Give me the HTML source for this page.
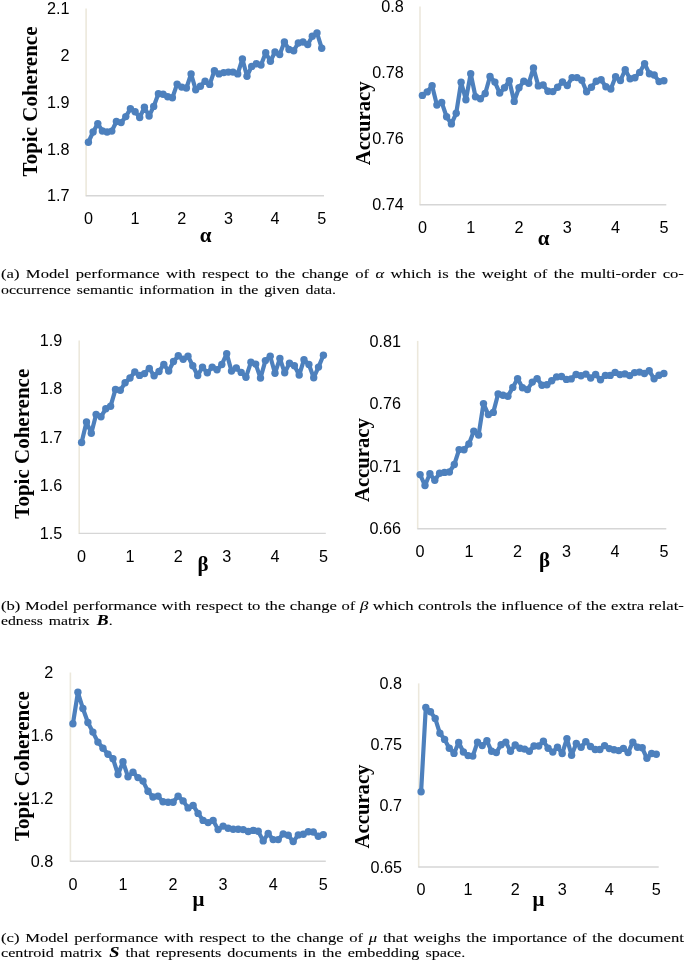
<!DOCTYPE html>
<html><head><meta charset="utf-8"><title>Figure</title>
<style>
html,body{margin:0;padding:0;background:#fff;}
body{width:685px;height:960px;position:relative;overflow:hidden;}
svg{position:absolute;left:0;top:0;}
.tk{font-family:"Liberation Sans",Arial,sans-serif;font-size:16.2px;fill:#000;}
.tt{font-family:"Liberation Serif","Times New Roman",serif;font-size:21px;font-weight:bold;fill:#000;}
.cp{font-family:"Liberation Serif","Times New Roman",serif;font-size:12.9px;fill:#000;stroke:#000;stroke-width:0.08px;}
</style></head><body>
<svg width="685" height="960" viewBox="0 0 685 960">
<g><line x1="86.1" y1="8.4" x2="86.1" y2="196.2" stroke="#ece8dc" stroke-width="1.6"/>
<line x1="85.8" y1="195.7" x2="324" y2="195.7" stroke="#d6d6d6" stroke-width="1.4"/>
<text x="69.4" y="201.3" class="tk" text-anchor="end">1.7</text>
<text x="69.4" y="154.5" class="tk" text-anchor="end">1.8</text>
<text x="69.4" y="107.6" class="tk" text-anchor="end">1.9</text>
<text x="69.4" y="60.8" class="tk" text-anchor="end">2</text>
<text x="69.4" y="14" class="tk" text-anchor="end">2.1</text>
<text x="88.4" y="223.9" class="tk" text-anchor="middle">0</text>
<text x="135.1" y="223.9" class="tk" text-anchor="middle">1</text>
<text x="181.7" y="223.9" class="tk" text-anchor="middle">2</text>
<text x="228.4" y="223.9" class="tk" text-anchor="middle">3</text>
<text x="275" y="223.9" class="tk" text-anchor="middle">4</text>
<text x="321.7" y="223.9" class="tk" text-anchor="middle">5</text>
<text x="205.5" y="242.4" class="tt" text-anchor="middle">α</text>
<text transform="translate(37.2,176.4) rotate(-90)" class="tt">Topic Coherence</text>
<polyline points="88.4,142.2 93.1,132 97.8,123.6 102.4,131 107.1,132 111.8,131.1 116.4,121.5 121.1,122.6 125.8,116.6 130.4,108.8 135.1,111.8 139.7,117.5 144.4,107.3 149.1,116 153.7,106.4 158.4,93.7 163.1,94.2 167.7,96.8 172.4,97.7 177.1,84.1 181.7,87.1 186.4,88 191.1,74 195.7,89.7 200.4,86.2 205.1,81.3 209.7,84.4 214.4,70.8 219,73.9 223.7,72.6 228.4,72.1 233,72.1 237.7,73.9 242.4,59 247,76.2 251.7,66.4 256.4,63.8 261,65.1 265.7,52.8 270.4,61.2 275,52 279.7,54.6 284.4,41.9 289,49.5 293.7,50.7 298.3,43 303,42 307.7,44.6 312.3,36.2 317,32.9 321.7,48.2" fill="none" stroke="#4D80BD" stroke-width="4.2" stroke-linejoin="round" stroke-linecap="round"/>
<g fill="#4D80BD"><circle cx="88.4" cy="142.2" r="3.7"/><circle cx="93.1" cy="132" r="3.7"/><circle cx="97.8" cy="123.6" r="3.7"/><circle cx="102.4" cy="131" r="3.7"/><circle cx="107.1" cy="132" r="3.7"/><circle cx="111.8" cy="131.1" r="3.7"/><circle cx="116.4" cy="121.5" r="3.7"/><circle cx="121.1" cy="122.6" r="3.7"/><circle cx="125.8" cy="116.6" r="3.7"/><circle cx="130.4" cy="108.8" r="3.7"/><circle cx="135.1" cy="111.8" r="3.7"/><circle cx="139.7" cy="117.5" r="3.7"/><circle cx="144.4" cy="107.3" r="3.7"/><circle cx="149.1" cy="116" r="3.7"/><circle cx="153.7" cy="106.4" r="3.7"/><circle cx="158.4" cy="93.7" r="3.7"/><circle cx="163.1" cy="94.2" r="3.7"/><circle cx="167.7" cy="96.8" r="3.7"/><circle cx="172.4" cy="97.7" r="3.7"/><circle cx="177.1" cy="84.1" r="3.7"/><circle cx="181.7" cy="87.1" r="3.7"/><circle cx="186.4" cy="88" r="3.7"/><circle cx="191.1" cy="74" r="3.7"/><circle cx="195.7" cy="89.7" r="3.7"/><circle cx="200.4" cy="86.2" r="3.7"/><circle cx="205.1" cy="81.3" r="3.7"/><circle cx="209.7" cy="84.4" r="3.7"/><circle cx="214.4" cy="70.8" r="3.7"/><circle cx="219" cy="73.9" r="3.7"/><circle cx="223.7" cy="72.6" r="3.7"/><circle cx="228.4" cy="72.1" r="3.7"/><circle cx="233" cy="72.1" r="3.7"/><circle cx="237.7" cy="73.9" r="3.7"/><circle cx="242.4" cy="59" r="3.7"/><circle cx="247" cy="76.2" r="3.7"/><circle cx="251.7" cy="66.4" r="3.7"/><circle cx="256.4" cy="63.8" r="3.7"/><circle cx="261" cy="65.1" r="3.7"/><circle cx="265.7" cy="52.8" r="3.7"/><circle cx="270.4" cy="61.2" r="3.7"/><circle cx="275" cy="52" r="3.7"/><circle cx="279.7" cy="54.6" r="3.7"/><circle cx="284.4" cy="41.9" r="3.7"/><circle cx="289" cy="49.5" r="3.7"/><circle cx="293.7" cy="50.7" r="3.7"/><circle cx="298.3" cy="43" r="3.7"/><circle cx="303" cy="42" r="3.7"/><circle cx="307.7" cy="44.6" r="3.7"/><circle cx="312.3" cy="36.2" r="3.7"/><circle cx="317" cy="32.9" r="3.7"/><circle cx="321.7" cy="48.2" r="3.7"/></g></g>
<g><line x1="420" y1="6.6" x2="420" y2="205.2" stroke="#ece8dc" stroke-width="1.6"/>
<line x1="419.7" y1="204.7" x2="666.3" y2="204.7" stroke="#d6d6d6" stroke-width="1.4"/>
<text x="403.8" y="210.3" class="tk" text-anchor="end">0.74</text>
<text x="403.8" y="144.3" class="tk" text-anchor="end">0.76</text>
<text x="403.8" y="78.2" class="tk" text-anchor="end">0.78</text>
<text x="403.8" y="12.2" class="tk" text-anchor="end">0.8</text>
<text x="422.4" y="233" class="tk" text-anchor="middle">0</text>
<text x="470.7" y="233" class="tk" text-anchor="middle">1</text>
<text x="519" y="233" class="tk" text-anchor="middle">2</text>
<text x="567.3" y="233" class="tk" text-anchor="middle">3</text>
<text x="615.6" y="233" class="tk" text-anchor="middle">4</text>
<text x="663.9" y="233" class="tk" text-anchor="middle">5</text>
<text x="543.5" y="244.9" class="tt" text-anchor="middle">α</text>
<text transform="translate(370,165.3) rotate(-90)" class="tt" style="font-size:20.7px">Accuracy</text>
<polyline points="422.4,95.4 427.2,91.9 432.1,85.8 436.9,105 441.7,102.4 446.6,116.8 451.4,123.9 456.2,113.3 461.1,82.3 465.9,99.8 470.7,73.7 475.5,96.7 480.4,98.8 485.2,93.5 490,76.5 494.9,82.1 499.7,93.1 504.5,87.8 509.3,80.8 514.2,101.4 519,87.8 523.8,81.2 528.7,83.3 533.5,68 538.3,85.9 543.1,85 548,91.2 552.8,91.6 557.6,87.2 562.5,82 567.3,85.5 572.1,77.6 577,77.6 581.8,80.3 586.6,91.7 591.4,87.3 596.3,81.2 601.1,79.8 605.9,86.8 610.8,89 615.6,76.8 620.4,80.5 625.2,69.8 630.1,78.7 634.9,77.7 639.7,72.4 644.6,63.6 649.4,73.7 654.2,75 659.1,81.6 663.9,80.7" fill="none" stroke="#4D80BD" stroke-width="4.2" stroke-linejoin="round" stroke-linecap="round"/>
<g fill="#4D80BD"><circle cx="422.4" cy="95.4" r="3.7"/><circle cx="427.2" cy="91.9" r="3.7"/><circle cx="432.1" cy="85.8" r="3.7"/><circle cx="436.9" cy="105" r="3.7"/><circle cx="441.7" cy="102.4" r="3.7"/><circle cx="446.6" cy="116.8" r="3.7"/><circle cx="451.4" cy="123.9" r="3.7"/><circle cx="456.2" cy="113.3" r="3.7"/><circle cx="461.1" cy="82.3" r="3.7"/><circle cx="465.9" cy="99.8" r="3.7"/><circle cx="470.7" cy="73.7" r="3.7"/><circle cx="475.5" cy="96.7" r="3.7"/><circle cx="480.4" cy="98.8" r="3.7"/><circle cx="485.2" cy="93.5" r="3.7"/><circle cx="490" cy="76.5" r="3.7"/><circle cx="494.9" cy="82.1" r="3.7"/><circle cx="499.7" cy="93.1" r="3.7"/><circle cx="504.5" cy="87.8" r="3.7"/><circle cx="509.3" cy="80.8" r="3.7"/><circle cx="514.2" cy="101.4" r="3.7"/><circle cx="519" cy="87.8" r="3.7"/><circle cx="523.8" cy="81.2" r="3.7"/><circle cx="528.7" cy="83.3" r="3.7"/><circle cx="533.5" cy="68" r="3.7"/><circle cx="538.3" cy="85.9" r="3.7"/><circle cx="543.1" cy="85" r="3.7"/><circle cx="548" cy="91.2" r="3.7"/><circle cx="552.8" cy="91.6" r="3.7"/><circle cx="557.6" cy="87.2" r="3.7"/><circle cx="562.5" cy="82" r="3.7"/><circle cx="567.3" cy="85.5" r="3.7"/><circle cx="572.1" cy="77.6" r="3.7"/><circle cx="577" cy="77.6" r="3.7"/><circle cx="581.8" cy="80.3" r="3.7"/><circle cx="586.6" cy="91.7" r="3.7"/><circle cx="591.4" cy="87.3" r="3.7"/><circle cx="596.3" cy="81.2" r="3.7"/><circle cx="601.1" cy="79.8" r="3.7"/><circle cx="605.9" cy="86.8" r="3.7"/><circle cx="610.8" cy="89" r="3.7"/><circle cx="615.6" cy="76.8" r="3.7"/><circle cx="620.4" cy="80.5" r="3.7"/><circle cx="625.2" cy="69.8" r="3.7"/><circle cx="630.1" cy="78.7" r="3.7"/><circle cx="634.9" cy="77.7" r="3.7"/><circle cx="639.7" cy="72.4" r="3.7"/><circle cx="644.6" cy="63.6" r="3.7"/><circle cx="649.4" cy="73.7" r="3.7"/><circle cx="654.2" cy="75" r="3.7"/><circle cx="659.1" cy="81.6" r="3.7"/><circle cx="663.9" cy="80.7" r="3.7"/></g></g>
<g><line x1="79.2" y1="340.4" x2="79.2" y2="533.9" stroke="#ece8dc" stroke-width="1.6"/>
<line x1="78.9" y1="533.4" x2="325.8" y2="533.4" stroke="#d6d6d6" stroke-width="1.4"/>
<text x="62.3" y="539" class="tk" text-anchor="end">1.5</text>
<text x="62.3" y="490.8" class="tk" text-anchor="end">1.6</text>
<text x="62.3" y="442.5" class="tk" text-anchor="end">1.7</text>
<text x="62.3" y="394.2" class="tk" text-anchor="end">1.8</text>
<text x="62.3" y="346" class="tk" text-anchor="end">1.9</text>
<text x="81.6" y="561.7" class="tk" text-anchor="middle">0</text>
<text x="130" y="561.7" class="tk" text-anchor="middle">1</text>
<text x="178.3" y="561.7" class="tk" text-anchor="middle">2</text>
<text x="226.7" y="561.7" class="tk" text-anchor="middle">3</text>
<text x="275" y="561.7" class="tk" text-anchor="middle">4</text>
<text x="323.4" y="561.7" class="tk" text-anchor="middle">5</text>
<text x="203" y="570.6" class="tt" text-anchor="middle">β</text>
<text transform="translate(28.7,518.7) rotate(-90)" class="tt">Topic Coherence</text>
<polyline points="81.6,442.5 86.5,422 91.3,433.3 96.1,414.5 101,416.7 105.8,408.8 110.6,406.2 115.5,389.4 120.3,390.3 125.1,382.8 130,378 134.8,371.9 139.6,375.4 144.5,373.6 149.3,368.4 154.1,375.8 159,371.5 163.8,364.4 168.7,371 173.5,361.5 178.3,355.8 183.2,359.3 188,356.2 192.8,365.8 197.7,375.5 202.5,367.1 207.3,372.8 212.2,367.1 217,369.8 221.8,364.5 226.7,353.6 231.5,371.1 236.3,368 241.2,372.4 246,377.2 250.9,362.3 255.7,364.1 260.5,378.1 265.4,360.6 270.2,356.2 275,373.3 279.9,358.4 284.7,372.8 289.5,363.2 294.4,365.8 299.2,375 304,359.7 308.9,364.5 313.7,377.7 318.5,367.1 323.4,355.3" fill="none" stroke="#4D80BD" stroke-width="4.2" stroke-linejoin="round" stroke-linecap="round"/>
<g fill="#4D80BD"><circle cx="81.6" cy="442.5" r="3.7"/><circle cx="86.5" cy="422" r="3.7"/><circle cx="91.3" cy="433.3" r="3.7"/><circle cx="96.1" cy="414.5" r="3.7"/><circle cx="101" cy="416.7" r="3.7"/><circle cx="105.8" cy="408.8" r="3.7"/><circle cx="110.6" cy="406.2" r="3.7"/><circle cx="115.5" cy="389.4" r="3.7"/><circle cx="120.3" cy="390.3" r="3.7"/><circle cx="125.1" cy="382.8" r="3.7"/><circle cx="130" cy="378" r="3.7"/><circle cx="134.8" cy="371.9" r="3.7"/><circle cx="139.6" cy="375.4" r="3.7"/><circle cx="144.5" cy="373.6" r="3.7"/><circle cx="149.3" cy="368.4" r="3.7"/><circle cx="154.1" cy="375.8" r="3.7"/><circle cx="159" cy="371.5" r="3.7"/><circle cx="163.8" cy="364.4" r="3.7"/><circle cx="168.7" cy="371" r="3.7"/><circle cx="173.5" cy="361.5" r="3.7"/><circle cx="178.3" cy="355.8" r="3.7"/><circle cx="183.2" cy="359.3" r="3.7"/><circle cx="188" cy="356.2" r="3.7"/><circle cx="192.8" cy="365.8" r="3.7"/><circle cx="197.7" cy="375.5" r="3.7"/><circle cx="202.5" cy="367.1" r="3.7"/><circle cx="207.3" cy="372.8" r="3.7"/><circle cx="212.2" cy="367.1" r="3.7"/><circle cx="217" cy="369.8" r="3.7"/><circle cx="221.8" cy="364.5" r="3.7"/><circle cx="226.7" cy="353.6" r="3.7"/><circle cx="231.5" cy="371.1" r="3.7"/><circle cx="236.3" cy="368" r="3.7"/><circle cx="241.2" cy="372.4" r="3.7"/><circle cx="246" cy="377.2" r="3.7"/><circle cx="250.9" cy="362.3" r="3.7"/><circle cx="255.7" cy="364.1" r="3.7"/><circle cx="260.5" cy="378.1" r="3.7"/><circle cx="265.4" cy="360.6" r="3.7"/><circle cx="270.2" cy="356.2" r="3.7"/><circle cx="275" cy="373.3" r="3.7"/><circle cx="279.9" cy="358.4" r="3.7"/><circle cx="284.7" cy="372.8" r="3.7"/><circle cx="289.5" cy="363.2" r="3.7"/><circle cx="294.4" cy="365.8" r="3.7"/><circle cx="299.2" cy="375" r="3.7"/><circle cx="304" cy="359.7" r="3.7"/><circle cx="308.9" cy="364.5" r="3.7"/><circle cx="313.7" cy="377.7" r="3.7"/><circle cx="318.5" cy="367.1" r="3.7"/><circle cx="323.4" cy="355.3" r="3.7"/></g></g>
<g><line x1="417.7" y1="340.9" x2="417.7" y2="529.2" stroke="#ece8dc" stroke-width="1.6"/>
<line x1="417.4" y1="528.7" x2="666.3" y2="528.7" stroke="#d6d6d6" stroke-width="1.4"/>
<text x="401.1" y="534.3" class="tk" text-anchor="end">0.66</text>
<text x="401.1" y="471.7" class="tk" text-anchor="end">0.71</text>
<text x="401.1" y="409.1" class="tk" text-anchor="end">0.76</text>
<text x="401.1" y="346.5" class="tk" text-anchor="end">0.81</text>
<text x="420.1" y="557.1" class="tk" text-anchor="middle">0</text>
<text x="468.9" y="557.1" class="tk" text-anchor="middle">1</text>
<text x="517.6" y="557.1" class="tk" text-anchor="middle">2</text>
<text x="566.4" y="557.1" class="tk" text-anchor="middle">3</text>
<text x="615.1" y="557.1" class="tk" text-anchor="middle">4</text>
<text x="663.9" y="557.1" class="tk" text-anchor="middle">5</text>
<text x="544.5" y="566.9" class="tt" text-anchor="middle">β</text>
<text transform="translate(369.1,502) rotate(-90)" class="tt" style="font-size:20.7px">Accuracy</text>
<polyline points="420.1,474.6 425,485.5 429.9,473.7 434.8,480.3 439.6,473.3 444.5,472.4 449.4,472 454.3,464.5 459.1,449.6 464,449.8 468.9,443.9 473.8,431.3 478.6,435 483.5,403.6 488.4,414.6 493.3,412.4 498.1,394 503,395.3 507.9,396.2 512.8,387.4 517.6,378.6 522.5,387.8 527.4,389.6 532.3,382.1 537.1,378.6 542,385.2 546.9,384.8 551.7,380.8 556.6,376.9 561.5,376.5 566.4,379.4 571.2,378.9 576.1,374.5 581,375.8 585.9,374.1 590.7,378 595.6,374.5 600.5,379.8 605.4,375.4 610.2,375.4 615.1,372.4 620,374.6 624.9,373.9 629.7,375.6 634.6,372.6 639.5,372.1 644.4,373.5 649.2,370.8 654.1,378.7 659,375.2 663.9,373.5" fill="none" stroke="#4D80BD" stroke-width="4.2" stroke-linejoin="round" stroke-linecap="round"/>
<g fill="#4D80BD"><circle cx="420.1" cy="474.6" r="3.7"/><circle cx="425" cy="485.5" r="3.7"/><circle cx="429.9" cy="473.7" r="3.7"/><circle cx="434.8" cy="480.3" r="3.7"/><circle cx="439.6" cy="473.3" r="3.7"/><circle cx="444.5" cy="472.4" r="3.7"/><circle cx="449.4" cy="472" r="3.7"/><circle cx="454.3" cy="464.5" r="3.7"/><circle cx="459.1" cy="449.6" r="3.7"/><circle cx="464" cy="449.8" r="3.7"/><circle cx="468.9" cy="443.9" r="3.7"/><circle cx="473.8" cy="431.3" r="3.7"/><circle cx="478.6" cy="435" r="3.7"/><circle cx="483.5" cy="403.6" r="3.7"/><circle cx="488.4" cy="414.6" r="3.7"/><circle cx="493.3" cy="412.4" r="3.7"/><circle cx="498.1" cy="394" r="3.7"/><circle cx="503" cy="395.3" r="3.7"/><circle cx="507.9" cy="396.2" r="3.7"/><circle cx="512.8" cy="387.4" r="3.7"/><circle cx="517.6" cy="378.6" r="3.7"/><circle cx="522.5" cy="387.8" r="3.7"/><circle cx="527.4" cy="389.6" r="3.7"/><circle cx="532.3" cy="382.1" r="3.7"/><circle cx="537.1" cy="378.6" r="3.7"/><circle cx="542" cy="385.2" r="3.7"/><circle cx="546.9" cy="384.8" r="3.7"/><circle cx="551.7" cy="380.8" r="3.7"/><circle cx="556.6" cy="376.9" r="3.7"/><circle cx="561.5" cy="376.5" r="3.7"/><circle cx="566.4" cy="379.4" r="3.7"/><circle cx="571.2" cy="378.9" r="3.7"/><circle cx="576.1" cy="374.5" r="3.7"/><circle cx="581" cy="375.8" r="3.7"/><circle cx="585.9" cy="374.1" r="3.7"/><circle cx="590.7" cy="378" r="3.7"/><circle cx="595.6" cy="374.5" r="3.7"/><circle cx="600.5" cy="379.8" r="3.7"/><circle cx="605.4" cy="375.4" r="3.7"/><circle cx="610.2" cy="375.4" r="3.7"/><circle cx="615.1" cy="372.4" r="3.7"/><circle cx="620" cy="374.6" r="3.7"/><circle cx="624.9" cy="373.9" r="3.7"/><circle cx="629.7" cy="375.6" r="3.7"/><circle cx="634.6" cy="372.6" r="3.7"/><circle cx="639.5" cy="372.1" r="3.7"/><circle cx="644.4" cy="373.5" r="3.7"/><circle cx="649.2" cy="370.8" r="3.7"/><circle cx="654.1" cy="378.7" r="3.7"/><circle cx="659" cy="375.2" r="3.7"/><circle cx="663.9" cy="373.5" r="3.7"/></g></g>
<g><line x1="70.4" y1="672.5" x2="70.4" y2="861.7" stroke="#ece8dc" stroke-width="1.6"/>
<line x1="70.1" y1="861.2" x2="325.8" y2="861.2" stroke="#d6d6d6" stroke-width="1.4"/>
<text x="53.3" y="866.8" class="tk" text-anchor="end">0.8</text>
<text x="53.3" y="803.9" class="tk" text-anchor="end">1.2</text>
<text x="53.3" y="741" class="tk" text-anchor="end">1.6</text>
<text x="53.3" y="678.1" class="tk" text-anchor="end">2</text>
<text x="72.9" y="889.5" class="tk" text-anchor="middle">0</text>
<text x="123" y="889.5" class="tk" text-anchor="middle">1</text>
<text x="173.1" y="889.5" class="tk" text-anchor="middle">2</text>
<text x="223.1" y="889.5" class="tk" text-anchor="middle">3</text>
<text x="273.2" y="889.5" class="tk" text-anchor="middle">4</text>
<text x="323.3" y="889.5" class="tk" text-anchor="middle">5</text>
<text x="198.4" y="905.9" class="tt" text-anchor="middle">μ</text>
<text transform="translate(28.7,841) rotate(-90)" class="tt">Topic Coherence</text>
<polyline points="72.9,723.8 77.9,692.3 82.9,708.5 87.9,722.5 92.9,732.1 97.9,742.1 103,748.2 108,754.3 113,758.7 118,774.5 123,761.8 128,776.7 133,772.3 138,777.6 143,781.1 148,791.3 153,797 158,796.1 163,801.8 168.1,802.2 173.1,802.2 178.1,796.1 183.1,800.9 188.1,807.9 193.1,805.4 198.1,813.4 203.1,820.4 208.1,822.6 213.1,820.4 218.1,829.6 223.1,826.1 228.1,828.3 233.2,829.2 238.2,829.2 243.2,829.6 248.2,831.5 253.2,830.4 258.2,831.3 263.2,840.9 268.2,833.5 273.2,839.6 278.2,839.6 283.2,833.9 288.2,835.2 293.2,841.6 298.3,834.9 303.3,834.3 308.3,831.7 313.3,832 318.3,836.3 323.3,834.6" fill="none" stroke="#4D80BD" stroke-width="4.2" stroke-linejoin="round" stroke-linecap="round"/>
<g fill="#4D80BD"><circle cx="72.9" cy="723.8" r="3.7"/><circle cx="77.9" cy="692.3" r="3.7"/><circle cx="82.9" cy="708.5" r="3.7"/><circle cx="87.9" cy="722.5" r="3.7"/><circle cx="92.9" cy="732.1" r="3.7"/><circle cx="97.9" cy="742.1" r="3.7"/><circle cx="103" cy="748.2" r="3.7"/><circle cx="108" cy="754.3" r="3.7"/><circle cx="113" cy="758.7" r="3.7"/><circle cx="118" cy="774.5" r="3.7"/><circle cx="123" cy="761.8" r="3.7"/><circle cx="128" cy="776.7" r="3.7"/><circle cx="133" cy="772.3" r="3.7"/><circle cx="138" cy="777.6" r="3.7"/><circle cx="143" cy="781.1" r="3.7"/><circle cx="148" cy="791.3" r="3.7"/><circle cx="153" cy="797" r="3.7"/><circle cx="158" cy="796.1" r="3.7"/><circle cx="163" cy="801.8" r="3.7"/><circle cx="168.1" cy="802.2" r="3.7"/><circle cx="173.1" cy="802.2" r="3.7"/><circle cx="178.1" cy="796.1" r="3.7"/><circle cx="183.1" cy="800.9" r="3.7"/><circle cx="188.1" cy="807.9" r="3.7"/><circle cx="193.1" cy="805.4" r="3.7"/><circle cx="198.1" cy="813.4" r="3.7"/><circle cx="203.1" cy="820.4" r="3.7"/><circle cx="208.1" cy="822.6" r="3.7"/><circle cx="213.1" cy="820.4" r="3.7"/><circle cx="218.1" cy="829.6" r="3.7"/><circle cx="223.1" cy="826.1" r="3.7"/><circle cx="228.1" cy="828.3" r="3.7"/><circle cx="233.2" cy="829.2" r="3.7"/><circle cx="238.2" cy="829.2" r="3.7"/><circle cx="243.2" cy="829.6" r="3.7"/><circle cx="248.2" cy="831.5" r="3.7"/><circle cx="253.2" cy="830.4" r="3.7"/><circle cx="258.2" cy="831.3" r="3.7"/><circle cx="263.2" cy="840.9" r="3.7"/><circle cx="268.2" cy="833.5" r="3.7"/><circle cx="273.2" cy="839.6" r="3.7"/><circle cx="278.2" cy="839.6" r="3.7"/><circle cx="283.2" cy="833.9" r="3.7"/><circle cx="288.2" cy="835.2" r="3.7"/><circle cx="293.2" cy="841.6" r="3.7"/><circle cx="298.3" cy="834.9" r="3.7"/><circle cx="303.3" cy="834.3" r="3.7"/><circle cx="308.3" cy="831.7" r="3.7"/><circle cx="313.3" cy="832" r="3.7"/><circle cx="318.3" cy="836.3" r="3.7"/><circle cx="323.3" cy="834.6" r="3.7"/></g></g>
<g><line x1="418.7" y1="683.4" x2="418.7" y2="867.5" stroke="#ece8dc" stroke-width="1.6"/>
<line x1="418.4" y1="867" x2="658.7" y2="867" stroke="#d6d6d6" stroke-width="1.4"/>
<text x="402.1" y="872.6" class="tk" text-anchor="end">0.65</text>
<text x="402.1" y="811.4" class="tk" text-anchor="end">0.7</text>
<text x="402.1" y="750.2" class="tk" text-anchor="end">0.75</text>
<text x="402.1" y="689" class="tk" text-anchor="end">0.8</text>
<text x="421.1" y="895.3" class="tk" text-anchor="middle">0</text>
<text x="468.1" y="895.3" class="tk" text-anchor="middle">1</text>
<text x="515.2" y="895.3" class="tk" text-anchor="middle">2</text>
<text x="562.2" y="895.3" class="tk" text-anchor="middle">3</text>
<text x="609.3" y="895.3" class="tk" text-anchor="middle">4</text>
<text x="656.3" y="895.3" class="tk" text-anchor="middle">5</text>
<text x="538.5" y="905.5" class="tt" text-anchor="middle">μ</text>
<text transform="translate(369.1,848.4) rotate(-90)" class="tt" style="font-size:20.7px">Accuracy</text>
<polyline points="421.1,791.8 425.8,707.4 430.5,711.8 435.2,718.4 439.9,733.3 444.6,739.4 449.3,748.2 454,753.4 458.7,742.5 463.4,752 468.1,755.6 472.8,756.1 477.5,742.1 482.2,745.6 486.9,740.8 491.6,751.3 496.3,752.6 501.1,744.7 505.8,742.1 510.5,751.3 515.2,745 519.9,748.2 524.6,749.1 529.3,751.3 534,746 538.7,746 543.4,741.2 548.1,748.2 552.8,752.1 557.5,747.3 562.2,753.5 566.9,738.6 571.6,755.2 576.3,743.4 581.1,747.3 585.8,741.6 590.5,746.5 595.2,749.5 599.9,749.5 604.6,745.6 609.3,748.6 614,749.7 618.7,750.6 623.4,748.4 628.1,752.6 632.8,742.1 637.5,747.3 642.2,747.8 646.9,758.3 651.6,753.5 656.3,754.3" fill="none" stroke="#4D80BD" stroke-width="4.2" stroke-linejoin="round" stroke-linecap="round"/>
<g fill="#4D80BD"><circle cx="421.1" cy="791.8" r="3.7"/><circle cx="425.8" cy="707.4" r="3.7"/><circle cx="430.5" cy="711.8" r="3.7"/><circle cx="435.2" cy="718.4" r="3.7"/><circle cx="439.9" cy="733.3" r="3.7"/><circle cx="444.6" cy="739.4" r="3.7"/><circle cx="449.3" cy="748.2" r="3.7"/><circle cx="454" cy="753.4" r="3.7"/><circle cx="458.7" cy="742.5" r="3.7"/><circle cx="463.4" cy="752" r="3.7"/><circle cx="468.1" cy="755.6" r="3.7"/><circle cx="472.8" cy="756.1" r="3.7"/><circle cx="477.5" cy="742.1" r="3.7"/><circle cx="482.2" cy="745.6" r="3.7"/><circle cx="486.9" cy="740.8" r="3.7"/><circle cx="491.6" cy="751.3" r="3.7"/><circle cx="496.3" cy="752.6" r="3.7"/><circle cx="501.1" cy="744.7" r="3.7"/><circle cx="505.8" cy="742.1" r="3.7"/><circle cx="510.5" cy="751.3" r="3.7"/><circle cx="515.2" cy="745" r="3.7"/><circle cx="519.9" cy="748.2" r="3.7"/><circle cx="524.6" cy="749.1" r="3.7"/><circle cx="529.3" cy="751.3" r="3.7"/><circle cx="534" cy="746" r="3.7"/><circle cx="538.7" cy="746" r="3.7"/><circle cx="543.4" cy="741.2" r="3.7"/><circle cx="548.1" cy="748.2" r="3.7"/><circle cx="552.8" cy="752.1" r="3.7"/><circle cx="557.5" cy="747.3" r="3.7"/><circle cx="562.2" cy="753.5" r="3.7"/><circle cx="566.9" cy="738.6" r="3.7"/><circle cx="571.6" cy="755.2" r="3.7"/><circle cx="576.3" cy="743.4" r="3.7"/><circle cx="581.1" cy="747.3" r="3.7"/><circle cx="585.8" cy="741.6" r="3.7"/><circle cx="590.5" cy="746.5" r="3.7"/><circle cx="595.2" cy="749.5" r="3.7"/><circle cx="599.9" cy="749.5" r="3.7"/><circle cx="604.6" cy="745.6" r="3.7"/><circle cx="609.3" cy="748.6" r="3.7"/><circle cx="614" cy="749.7" r="3.7"/><circle cx="618.7" cy="750.6" r="3.7"/><circle cx="623.4" cy="748.4" r="3.7"/><circle cx="628.1" cy="752.6" r="3.7"/><circle cx="632.8" cy="742.1" r="3.7"/><circle cx="637.5" cy="747.3" r="3.7"/><circle cx="642.2" cy="747.8" r="3.7"/><circle cx="646.9" cy="758.3" r="3.7"/><circle cx="651.6" cy="753.5" r="3.7"/><circle cx="656.3" cy="754.3" r="3.7"/></g></g>
<text class="cp" transform="translate(1,278.2) scale(1.29,1)" style="word-spacing:1.751px">(a) Model performance with respect to the change of <tspan font-style="italic">α</tspan> which is the weight of the multi-order co-</text>
<text class="cp" transform="translate(1,293.5) scale(1.2350,1)" style="word-spacing:1.6px">occurrence semantic information in the given data.</text>
<text class="cp" transform="translate(1,610.1) scale(1.29,1)" style="word-spacing:0.342px">(b) Model performance with respect to the change of <tspan font-style="italic">β</tspan> which controls the influence of the extra relat-</text>
<text class="cp" transform="translate(1,625.4) scale(1.2180,1)" style="word-spacing:1.6px">edness matrix <tspan font-weight="bold" font-style="italic" font-size="14.6" dx="1">B</tspan>.</text>
<text class="cp" transform="translate(1,941.9) scale(1.29,1)" style="word-spacing:1.186px">(c) Model performance with respect to the change of <tspan font-style="italic">μ</tspan> that weighs the importance of the document</text>
<text class="cp" transform="translate(1,957.2) scale(1.2521,1)" style="word-spacing:1.6px">centroid matrix <tspan font-weight="bold" font-style="italic" font-size="14.6" dx="1">S</tspan> that represents documents in the embedding space.</text>
</svg>

</body></html>
